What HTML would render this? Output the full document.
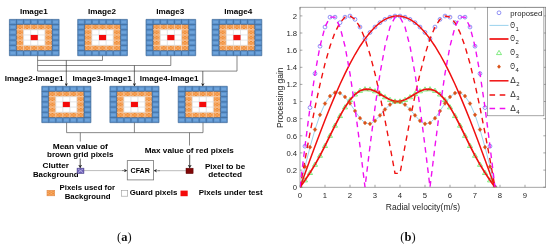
<!DOCTYPE html>
<html><head><meta charset="utf-8"><title>Figure</title>
<style>
html,body{margin:0;padding:0;background:#fff;}
body{width:550px;height:249px;overflow:hidden;}
svg{display:block;}
.lb{font-family:"Liberation Sans","DejaVu Sans",sans-serif;font-weight:bold;font-size:6.9px;fill:#000;}
.tk{font-family:"Liberation Sans",sans-serif;font-size:7.7px;fill:#262626;}
.ax{font-family:"Liberation Sans",sans-serif;font-size:8.5px;fill:#262626;}
.lg{font-family:"Liberation Sans",sans-serif;font-size:7.7px;fill:#222;}
.cap{font-family:"Liberation Serif",serif;font-size:12.5px;fill:#111;}
</style></head><body>
<svg width="550" height="249" viewBox="0 0 550 249">
<defs>
<pattern id="hatch" width="3.543" height="2.6" patternUnits="userSpaceOnUse"><rect width="3.543" height="2.6" fill="#f08629"/><path d="M0.3 0.3L3.24 2.3M3.24 0.3L0.3 2.3" stroke="#fce0c8" stroke-width="0.45"/></pattern>
<marker id="ah" viewBox="0 0 10 12" refX="9.5" refY="6" markerWidth="3" markerHeight="3.6" orient="auto-start-reverse" markerUnits="userSpaceOnUse"><path d="M0 0L10 6L0 12L2.5 6z" fill="#222"/></marker>
<marker id="ah2" viewBox="0 0 10 12" refX="9.5" refY="6" markerWidth="3.6" markerHeight="4.2" orient="auto-start-reverse" markerUnits="userSpaceOnUse"><path d="M0 0L10 6L0 12L3 6z" fill="#222"/></marker>
</defs>
<rect width="550" height="249" fill="#fff"/>
<g transform="translate(9.40,19.40)"><rect width="49.70" height="36.30" fill="#5b92cd"/><rect x="7.10" y="5.19" width="35.50" height="25.93" fill="url(#hatch)"/><rect x="14.20" y="10.37" width="21.30" height="15.56" fill="#fff"/><path d="M0.00 0V36.30M0 0.00H49.70M7.10 0V36.30M0 5.19H49.70M14.20 0V36.30M0 10.37H49.70M21.30 0V36.30M0 15.56H49.70M28.40 0V36.30M0 20.74H49.70M35.50 0V36.30M0 25.93H49.70M42.60 0V36.30M0 31.11H49.70M49.70 0V36.30M0 36.30H49.70" stroke="#3c6796" stroke-width="0.7" fill="none"/><path d="M1.20 1.50h4.70v2.19h-4.70zM8.30 1.50h4.70v2.19h-4.70zM15.40 1.50h4.70v2.19h-4.70zM22.50 1.50h4.70v2.19h-4.70zM29.60 1.50h4.70v2.19h-4.70zM36.70 1.50h4.70v2.19h-4.70zM43.80 1.50h4.70v2.19h-4.70zM1.20 6.69h4.70v2.19h-4.70zM43.80 6.69h4.70v2.19h-4.70zM1.20 11.87h4.70v2.19h-4.70zM43.80 11.87h4.70v2.19h-4.70zM1.20 17.06h4.70v2.19h-4.70zM43.80 17.06h4.70v2.19h-4.70zM1.20 22.24h4.70v2.19h-4.70zM43.80 22.24h4.70v2.19h-4.70zM1.20 27.43h4.70v2.19h-4.70zM43.80 27.43h4.70v2.19h-4.70zM1.20 32.61h4.70v2.19h-4.70zM8.30 32.61h4.70v2.19h-4.70zM15.40 32.61h4.70v2.19h-4.70zM22.50 32.61h4.70v2.19h-4.70zM29.60 32.61h4.70v2.19h-4.70zM36.70 32.61h4.70v2.19h-4.70zM43.80 32.61h4.70v2.19h-4.70z" fill="#8fc0f0" fill-opacity="0.38"/><rect x="7.10" y="5.19" width="35.50" height="25.93" fill="url(#hatch)" stroke="#3c6796" stroke-width="0.5"/><path d="M14.20 5.19V31.11M7.10 10.37H42.60M21.30 5.19V31.11M7.10 15.56H42.60M28.40 5.19V31.11M7.10 20.74H42.60M35.50 5.19V31.11M7.10 25.93H42.60" stroke="#fadcc6" stroke-width="0.7" fill="none"/><rect x="14.20" y="10.37" width="21.30" height="15.56" fill="#fff"/><path d="M14.20 10.37V25.93M14.20 10.37H35.50M21.30 10.37V25.93M14.20 15.56H35.50M28.40 10.37V25.93M14.20 20.74H35.50M35.50 10.37V25.93M14.20 25.93H35.50" stroke="#d4d4d4" stroke-width="0.6" fill="none"/><rect x="21.30" y="15.56" width="7.10" height="5.19" fill="#f40a0a"/></g>
<g transform="translate(77.70,19.40)"><rect width="49.70" height="36.30" fill="#5b92cd"/><rect x="7.10" y="5.19" width="35.50" height="25.93" fill="url(#hatch)"/><rect x="14.20" y="10.37" width="21.30" height="15.56" fill="#fff"/><path d="M0.00 0V36.30M0 0.00H49.70M7.10 0V36.30M0 5.19H49.70M14.20 0V36.30M0 10.37H49.70M21.30 0V36.30M0 15.56H49.70M28.40 0V36.30M0 20.74H49.70M35.50 0V36.30M0 25.93H49.70M42.60 0V36.30M0 31.11H49.70M49.70 0V36.30M0 36.30H49.70" stroke="#3c6796" stroke-width="0.7" fill="none"/><path d="M1.20 1.50h4.70v2.19h-4.70zM8.30 1.50h4.70v2.19h-4.70zM15.40 1.50h4.70v2.19h-4.70zM22.50 1.50h4.70v2.19h-4.70zM29.60 1.50h4.70v2.19h-4.70zM36.70 1.50h4.70v2.19h-4.70zM43.80 1.50h4.70v2.19h-4.70zM1.20 6.69h4.70v2.19h-4.70zM43.80 6.69h4.70v2.19h-4.70zM1.20 11.87h4.70v2.19h-4.70zM43.80 11.87h4.70v2.19h-4.70zM1.20 17.06h4.70v2.19h-4.70zM43.80 17.06h4.70v2.19h-4.70zM1.20 22.24h4.70v2.19h-4.70zM43.80 22.24h4.70v2.19h-4.70zM1.20 27.43h4.70v2.19h-4.70zM43.80 27.43h4.70v2.19h-4.70zM1.20 32.61h4.70v2.19h-4.70zM8.30 32.61h4.70v2.19h-4.70zM15.40 32.61h4.70v2.19h-4.70zM22.50 32.61h4.70v2.19h-4.70zM29.60 32.61h4.70v2.19h-4.70zM36.70 32.61h4.70v2.19h-4.70zM43.80 32.61h4.70v2.19h-4.70z" fill="#8fc0f0" fill-opacity="0.38"/><rect x="7.10" y="5.19" width="35.50" height="25.93" fill="url(#hatch)" stroke="#3c6796" stroke-width="0.5"/><path d="M14.20 5.19V31.11M7.10 10.37H42.60M21.30 5.19V31.11M7.10 15.56H42.60M28.40 5.19V31.11M7.10 20.74H42.60M35.50 5.19V31.11M7.10 25.93H42.60" stroke="#fadcc6" stroke-width="0.7" fill="none"/><rect x="14.20" y="10.37" width="21.30" height="15.56" fill="#fff"/><path d="M14.20 10.37V25.93M14.20 10.37H35.50M21.30 10.37V25.93M14.20 15.56H35.50M28.40 10.37V25.93M14.20 20.74H35.50M35.50 10.37V25.93M14.20 25.93H35.50" stroke="#d4d4d4" stroke-width="0.6" fill="none"/><rect x="21.30" y="15.56" width="7.10" height="5.19" fill="#f40a0a"/></g>
<g transform="translate(146.00,19.40)"><rect width="49.70" height="36.30" fill="#5b92cd"/><rect x="7.10" y="5.19" width="35.50" height="25.93" fill="url(#hatch)"/><rect x="14.20" y="10.37" width="21.30" height="15.56" fill="#fff"/><path d="M0.00 0V36.30M0 0.00H49.70M7.10 0V36.30M0 5.19H49.70M14.20 0V36.30M0 10.37H49.70M21.30 0V36.30M0 15.56H49.70M28.40 0V36.30M0 20.74H49.70M35.50 0V36.30M0 25.93H49.70M42.60 0V36.30M0 31.11H49.70M49.70 0V36.30M0 36.30H49.70" stroke="#3c6796" stroke-width="0.7" fill="none"/><path d="M1.20 1.50h4.70v2.19h-4.70zM8.30 1.50h4.70v2.19h-4.70zM15.40 1.50h4.70v2.19h-4.70zM22.50 1.50h4.70v2.19h-4.70zM29.60 1.50h4.70v2.19h-4.70zM36.70 1.50h4.70v2.19h-4.70zM43.80 1.50h4.70v2.19h-4.70zM1.20 6.69h4.70v2.19h-4.70zM43.80 6.69h4.70v2.19h-4.70zM1.20 11.87h4.70v2.19h-4.70zM43.80 11.87h4.70v2.19h-4.70zM1.20 17.06h4.70v2.19h-4.70zM43.80 17.06h4.70v2.19h-4.70zM1.20 22.24h4.70v2.19h-4.70zM43.80 22.24h4.70v2.19h-4.70zM1.20 27.43h4.70v2.19h-4.70zM43.80 27.43h4.70v2.19h-4.70zM1.20 32.61h4.70v2.19h-4.70zM8.30 32.61h4.70v2.19h-4.70zM15.40 32.61h4.70v2.19h-4.70zM22.50 32.61h4.70v2.19h-4.70zM29.60 32.61h4.70v2.19h-4.70zM36.70 32.61h4.70v2.19h-4.70zM43.80 32.61h4.70v2.19h-4.70z" fill="#8fc0f0" fill-opacity="0.38"/><rect x="7.10" y="5.19" width="35.50" height="25.93" fill="url(#hatch)" stroke="#3c6796" stroke-width="0.5"/><path d="M14.20 5.19V31.11M7.10 10.37H42.60M21.30 5.19V31.11M7.10 15.56H42.60M28.40 5.19V31.11M7.10 20.74H42.60M35.50 5.19V31.11M7.10 25.93H42.60" stroke="#fadcc6" stroke-width="0.7" fill="none"/><rect x="14.20" y="10.37" width="21.30" height="15.56" fill="#fff"/><path d="M14.20 10.37V25.93M14.20 10.37H35.50M21.30 10.37V25.93M14.20 15.56H35.50M28.40 10.37V25.93M14.20 20.74H35.50M35.50 10.37V25.93M14.20 25.93H35.50" stroke="#d4d4d4" stroke-width="0.6" fill="none"/><rect x="21.30" y="15.56" width="7.10" height="5.19" fill="#f40a0a"/></g>
<g transform="translate(212.10,19.40)"><rect width="49.70" height="36.30" fill="#5b92cd"/><rect x="7.10" y="5.19" width="35.50" height="25.93" fill="url(#hatch)"/><rect x="14.20" y="10.37" width="21.30" height="15.56" fill="#fff"/><path d="M0.00 0V36.30M0 0.00H49.70M7.10 0V36.30M0 5.19H49.70M14.20 0V36.30M0 10.37H49.70M21.30 0V36.30M0 15.56H49.70M28.40 0V36.30M0 20.74H49.70M35.50 0V36.30M0 25.93H49.70M42.60 0V36.30M0 31.11H49.70M49.70 0V36.30M0 36.30H49.70" stroke="#3c6796" stroke-width="0.7" fill="none"/><path d="M1.20 1.50h4.70v2.19h-4.70zM8.30 1.50h4.70v2.19h-4.70zM15.40 1.50h4.70v2.19h-4.70zM22.50 1.50h4.70v2.19h-4.70zM29.60 1.50h4.70v2.19h-4.70zM36.70 1.50h4.70v2.19h-4.70zM43.80 1.50h4.70v2.19h-4.70zM1.20 6.69h4.70v2.19h-4.70zM43.80 6.69h4.70v2.19h-4.70zM1.20 11.87h4.70v2.19h-4.70zM43.80 11.87h4.70v2.19h-4.70zM1.20 17.06h4.70v2.19h-4.70zM43.80 17.06h4.70v2.19h-4.70zM1.20 22.24h4.70v2.19h-4.70zM43.80 22.24h4.70v2.19h-4.70zM1.20 27.43h4.70v2.19h-4.70zM43.80 27.43h4.70v2.19h-4.70zM1.20 32.61h4.70v2.19h-4.70zM8.30 32.61h4.70v2.19h-4.70zM15.40 32.61h4.70v2.19h-4.70zM22.50 32.61h4.70v2.19h-4.70zM29.60 32.61h4.70v2.19h-4.70zM36.70 32.61h4.70v2.19h-4.70zM43.80 32.61h4.70v2.19h-4.70z" fill="#8fc0f0" fill-opacity="0.38"/><rect x="7.10" y="5.19" width="35.50" height="25.93" fill="url(#hatch)" stroke="#3c6796" stroke-width="0.5"/><path d="M14.20 5.19V31.11M7.10 10.37H42.60M21.30 5.19V31.11M7.10 15.56H42.60M28.40 5.19V31.11M7.10 20.74H42.60M35.50 5.19V31.11M7.10 25.93H42.60" stroke="#fadcc6" stroke-width="0.7" fill="none"/><rect x="14.20" y="10.37" width="21.30" height="15.56" fill="#fff"/><path d="M14.20 10.37V25.93M14.20 10.37H35.50M21.30 10.37V25.93M14.20 15.56H35.50M28.40 10.37V25.93M14.20 20.74H35.50M35.50 10.37V25.93M14.20 25.93H35.50" stroke="#d4d4d4" stroke-width="0.6" fill="none"/><rect x="21.30" y="15.56" width="7.10" height="5.19" fill="#f40a0a"/></g>
<g transform="translate(41.80,86.30)"><rect width="49.10" height="36.35" fill="#5b92cd"/><rect x="7.01" y="5.19" width="35.07" height="25.96" fill="url(#hatch)"/><rect x="14.03" y="10.39" width="21.04" height="15.58" fill="#fff"/><path d="M0.00 0V36.35M0 0.00H49.10M7.01 0V36.35M0 5.19H49.10M14.03 0V36.35M0 10.39H49.10M21.04 0V36.35M0 15.58H49.10M28.06 0V36.35M0 20.77H49.10M35.07 0V36.35M0 25.96H49.10M42.09 0V36.35M0 31.16H49.10M49.10 0V36.35M0 36.35H49.10" stroke="#3c6796" stroke-width="0.7" fill="none"/><path d="M1.20 1.50h4.61v2.19h-4.61zM8.21 1.50h4.61v2.19h-4.61zM15.23 1.50h4.61v2.19h-4.61zM22.24 1.50h4.61v2.19h-4.61zM29.26 1.50h4.61v2.19h-4.61zM36.27 1.50h4.61v2.19h-4.61zM43.29 1.50h4.61v2.19h-4.61zM1.20 6.69h4.61v2.19h-4.61zM43.29 6.69h4.61v2.19h-4.61zM1.20 11.89h4.61v2.19h-4.61zM43.29 11.89h4.61v2.19h-4.61zM1.20 17.08h4.61v2.19h-4.61zM43.29 17.08h4.61v2.19h-4.61zM1.20 22.27h4.61v2.19h-4.61zM43.29 22.27h4.61v2.19h-4.61zM1.20 27.46h4.61v2.19h-4.61zM43.29 27.46h4.61v2.19h-4.61zM1.20 32.66h4.61v2.19h-4.61zM8.21 32.66h4.61v2.19h-4.61zM15.23 32.66h4.61v2.19h-4.61zM22.24 32.66h4.61v2.19h-4.61zM29.26 32.66h4.61v2.19h-4.61zM36.27 32.66h4.61v2.19h-4.61zM43.29 32.66h4.61v2.19h-4.61z" fill="#8fc0f0" fill-opacity="0.38"/><rect x="7.01" y="5.19" width="35.07" height="25.96" fill="url(#hatch)" stroke="#3c6796" stroke-width="0.5"/><path d="M14.03 5.19V31.16M7.01 10.39H42.09M21.04 5.19V31.16M7.01 15.58H42.09M28.06 5.19V31.16M7.01 20.77H42.09M35.07 5.19V31.16M7.01 25.96H42.09" stroke="#fadcc6" stroke-width="0.7" fill="none"/><rect x="14.03" y="10.39" width="21.04" height="15.58" fill="#fff"/><path d="M14.03 10.39V25.96M14.03 10.39H35.07M21.04 10.39V25.96M14.03 15.58H35.07M28.06 10.39V25.96M14.03 20.77H35.07M35.07 10.39V25.96M14.03 25.96H35.07" stroke="#d4d4d4" stroke-width="0.6" fill="none"/><rect x="21.04" y="15.58" width="7.01" height="5.19" fill="#f40a0a"/></g>
<g transform="translate(109.90,86.30)"><rect width="49.10" height="36.35" fill="#5b92cd"/><rect x="7.01" y="5.19" width="35.07" height="25.96" fill="url(#hatch)"/><rect x="14.03" y="10.39" width="21.04" height="15.58" fill="#fff"/><path d="M0.00 0V36.35M0 0.00H49.10M7.01 0V36.35M0 5.19H49.10M14.03 0V36.35M0 10.39H49.10M21.04 0V36.35M0 15.58H49.10M28.06 0V36.35M0 20.77H49.10M35.07 0V36.35M0 25.96H49.10M42.09 0V36.35M0 31.16H49.10M49.10 0V36.35M0 36.35H49.10" stroke="#3c6796" stroke-width="0.7" fill="none"/><path d="M1.20 1.50h4.61v2.19h-4.61zM8.21 1.50h4.61v2.19h-4.61zM15.23 1.50h4.61v2.19h-4.61zM22.24 1.50h4.61v2.19h-4.61zM29.26 1.50h4.61v2.19h-4.61zM36.27 1.50h4.61v2.19h-4.61zM43.29 1.50h4.61v2.19h-4.61zM1.20 6.69h4.61v2.19h-4.61zM43.29 6.69h4.61v2.19h-4.61zM1.20 11.89h4.61v2.19h-4.61zM43.29 11.89h4.61v2.19h-4.61zM1.20 17.08h4.61v2.19h-4.61zM43.29 17.08h4.61v2.19h-4.61zM1.20 22.27h4.61v2.19h-4.61zM43.29 22.27h4.61v2.19h-4.61zM1.20 27.46h4.61v2.19h-4.61zM43.29 27.46h4.61v2.19h-4.61zM1.20 32.66h4.61v2.19h-4.61zM8.21 32.66h4.61v2.19h-4.61zM15.23 32.66h4.61v2.19h-4.61zM22.24 32.66h4.61v2.19h-4.61zM29.26 32.66h4.61v2.19h-4.61zM36.27 32.66h4.61v2.19h-4.61zM43.29 32.66h4.61v2.19h-4.61z" fill="#8fc0f0" fill-opacity="0.38"/><rect x="7.01" y="5.19" width="35.07" height="25.96" fill="url(#hatch)" stroke="#3c6796" stroke-width="0.5"/><path d="M14.03 5.19V31.16M7.01 10.39H42.09M21.04 5.19V31.16M7.01 15.58H42.09M28.06 5.19V31.16M7.01 20.77H42.09M35.07 5.19V31.16M7.01 25.96H42.09" stroke="#fadcc6" stroke-width="0.7" fill="none"/><rect x="14.03" y="10.39" width="21.04" height="15.58" fill="#fff"/><path d="M14.03 10.39V25.96M14.03 10.39H35.07M21.04 10.39V25.96M14.03 15.58H35.07M28.06 10.39V25.96M14.03 20.77H35.07M35.07 10.39V25.96M14.03 25.96H35.07" stroke="#d4d4d4" stroke-width="0.6" fill="none"/><rect x="21.04" y="15.58" width="7.01" height="5.19" fill="#f40a0a"/></g>
<g transform="translate(178.20,86.30)"><rect width="49.10" height="36.35" fill="#5b92cd"/><rect x="7.01" y="5.19" width="35.07" height="25.96" fill="url(#hatch)"/><rect x="14.03" y="10.39" width="21.04" height="15.58" fill="#fff"/><path d="M0.00 0V36.35M0 0.00H49.10M7.01 0V36.35M0 5.19H49.10M14.03 0V36.35M0 10.39H49.10M21.04 0V36.35M0 15.58H49.10M28.06 0V36.35M0 20.77H49.10M35.07 0V36.35M0 25.96H49.10M42.09 0V36.35M0 31.16H49.10M49.10 0V36.35M0 36.35H49.10" stroke="#3c6796" stroke-width="0.7" fill="none"/><path d="M1.20 1.50h4.61v2.19h-4.61zM8.21 1.50h4.61v2.19h-4.61zM15.23 1.50h4.61v2.19h-4.61zM22.24 1.50h4.61v2.19h-4.61zM29.26 1.50h4.61v2.19h-4.61zM36.27 1.50h4.61v2.19h-4.61zM43.29 1.50h4.61v2.19h-4.61zM1.20 6.69h4.61v2.19h-4.61zM43.29 6.69h4.61v2.19h-4.61zM1.20 11.89h4.61v2.19h-4.61zM43.29 11.89h4.61v2.19h-4.61zM1.20 17.08h4.61v2.19h-4.61zM43.29 17.08h4.61v2.19h-4.61zM1.20 22.27h4.61v2.19h-4.61zM43.29 22.27h4.61v2.19h-4.61zM1.20 27.46h4.61v2.19h-4.61zM43.29 27.46h4.61v2.19h-4.61zM1.20 32.66h4.61v2.19h-4.61zM8.21 32.66h4.61v2.19h-4.61zM15.23 32.66h4.61v2.19h-4.61zM22.24 32.66h4.61v2.19h-4.61zM29.26 32.66h4.61v2.19h-4.61zM36.27 32.66h4.61v2.19h-4.61zM43.29 32.66h4.61v2.19h-4.61z" fill="#8fc0f0" fill-opacity="0.38"/><rect x="7.01" y="5.19" width="35.07" height="25.96" fill="url(#hatch)" stroke="#3c6796" stroke-width="0.5"/><path d="M14.03 5.19V31.16M7.01 10.39H42.09M21.04 5.19V31.16M7.01 15.58H42.09M28.06 5.19V31.16M7.01 20.77H42.09M35.07 5.19V31.16M7.01 25.96H42.09" stroke="#fadcc6" stroke-width="0.7" fill="none"/><rect x="14.03" y="10.39" width="21.04" height="15.58" fill="#fff"/><path d="M14.03 10.39V25.96M14.03 10.39H35.07M21.04 10.39V25.96M14.03 15.58H35.07M28.06 10.39V25.96M14.03 20.77H35.07M35.07 10.39V25.96M14.03 25.96H35.07" stroke="#d4d4d4" stroke-width="0.6" fill="none"/><rect x="21.04" y="15.58" width="7.01" height="5.19" fill="#f40a0a"/></g>
<text class="lb" x="19.9" y="13.7" text-anchor="start" textLength="28.0" lengthAdjust="spacingAndGlyphs">Image1</text>
<text class="lb" x="88.1" y="13.7" text-anchor="start" textLength="28.0" lengthAdjust="spacingAndGlyphs">Image2</text>
<text class="lb" x="156.2" y="13.7" text-anchor="start" textLength="28.0" lengthAdjust="spacingAndGlyphs">Image3</text>
<text class="lb" x="224.3" y="13.7" text-anchor="start" textLength="28.0" lengthAdjust="spacingAndGlyphs">Image4</text>
<text class="lb" x="4.7" y="80.8" text-anchor="start" textLength="58.8" lengthAdjust="spacingAndGlyphs">Image2-Image1</text>
<text class="lb" x="72.5" y="80.8" text-anchor="start" textLength="59.4" lengthAdjust="spacingAndGlyphs">Image3-Image1</text>
<text class="lb" x="139.7" y="80.8" text-anchor="start" textLength="58.8" lengthAdjust="spacingAndGlyphs">Image4-Image1</text>
<path d="M37.6 55.699999999999996V71.1 M102.5 55.699999999999996V60.4 M170.8 55.699999999999996V65.5 M237 55.699999999999996V71.1 M37.6 60.4H102.5 M37.6 65.5H170.8 M37.6 71.1H237" stroke="#555" stroke-width="0.7" fill="none"/>
<path d="M66.3 60.4V86.0" stroke="#333" stroke-width="0.7" fill="none" marker-end="url(#ah)"/>
<path d="M134.4 65.5V86.0" stroke="#333" stroke-width="0.7" fill="none" marker-end="url(#ah)"/>
<path d="M202.8 71.1V86.0" stroke="#333" stroke-width="0.7" fill="none" marker-end="url(#ah)"/>
<path d="M66.6 122.65V132.65 M134.4 122.65V132.65 M203 122.65V132.65 M66.6 132.65H203 M80.3 132.65V141.5 M189.5 132.65V145.5" stroke="#555" stroke-width="0.7" fill="none"/>
<path d="M80.2 158.5V167.9" stroke="#333" stroke-width="0.85" fill="none" marker-end="url(#ah2)"/>
<path d="M189.7 154.8V168" stroke="#333" stroke-width="0.85" fill="none" marker-end="url(#ah2)"/>
<path d="M84 170.6H124" stroke="#bcbcbc" stroke-width="1" fill="none"/><path d="M122 170.6H126.9" stroke="#444" stroke-width="0.5" fill="none" marker-end="url(#ah)"/>
<path d="M185.9 170.7H158" stroke="#bcbcbc" stroke-width="1" fill="none"/><path d="M160 170.7H154" stroke="#444" stroke-width="0.5" fill="none" marker-end="url(#ah)"/>
<text class="lb" x="52.7" y="148.7" text-anchor="start" textLength="55.2" lengthAdjust="spacingAndGlyphs">Mean value of</text>
<text class="lb" x="47.0" y="156.5" text-anchor="start" textLength="66.5" lengthAdjust="spacingAndGlyphs">brown grid pixels</text>
<text class="lb" x="144.8" y="152.7" text-anchor="start" textLength="89.0" lengthAdjust="spacingAndGlyphs">Max value of red pixels</text>
<text class="lb" x="42.6" y="168.1" text-anchor="start" textLength="26.4" lengthAdjust="spacingAndGlyphs">Clutter</text>
<text class="lb" x="32.9" y="176.7" text-anchor="start" textLength="45.7" lengthAdjust="spacingAndGlyphs">Background</text>
<text class="lb" x="204.9" y="169.3" text-anchor="start" textLength="40.3" lengthAdjust="spacingAndGlyphs">Pixel to be</text>
<text class="lb" x="208.2" y="177.2" text-anchor="start" textLength="33.8" lengthAdjust="spacingAndGlyphs">detected</text>
<text class="lb" x="59.6" y="189.8" text-anchor="start" textLength="55.4" lengthAdjust="spacingAndGlyphs">Pixels used for</text>
<text class="lb" x="64.7" y="198.8" text-anchor="start" textLength="45.8" lengthAdjust="spacingAndGlyphs">Background</text>
<text class="lb" x="129.7" y="195.0" text-anchor="start" textLength="47.7" lengthAdjust="spacingAndGlyphs">Guard pixels</text>
<text class="lb" x="198.7" y="195.0" text-anchor="start" textLength="64.0" lengthAdjust="spacingAndGlyphs">Pixels under test</text>
<rect x="77.1" y="168.2" width="6.8" height="5.2" fill="#6c5fb8" stroke="#4a3f8a" stroke-width="0.6"/>
<path d="M78 169L83 172.6M83 169L78 172.6" stroke="#c9c2ea" stroke-width="0.7"/>
<rect x="127.3" y="160.6" width="26.3" height="19.3" fill="#fff" stroke="#777" stroke-width="0.8"/>
<text class="lb" x="130.5" y="173.1" text-anchor="start" textLength="19.4" lengthAdjust="spacingAndGlyphs">CFAR</text>
<rect x="186" y="168.2" width="7.1" height="5.4" fill="#800808" stroke="#5a0000" stroke-width="0.5"/>
<rect x="47" y="190.3" width="7.7" height="5.5" fill="url(#hatch)" stroke="#e08a4a" stroke-width="0.6"/>
<rect x="121.3" y="190.3" width="6.4" height="5.9" fill="#fff" stroke="#999" stroke-width="0.6"/>
<rect x="180.5" y="190.6" width="7.2" height="5.6" fill="#f40a0a"/>
<text class="cap" x="124.4" y="240.7" text-anchor="middle">(<tspan font-weight="bold">a</tspan>)</text>
<text class="cap" x="408" y="240.7" text-anchor="middle">(<tspan font-weight="bold">b</tspan>)</text>
<rect x="300.0" y="7.2" width="245.7" height="180.0" fill="#fff" stroke="#6a6a6a" stroke-width="0.6"/>
<path d="M300.0 187.2v-2.4M300.0 7.2v2.4M325.0 187.2v-2.4M325.0 7.2v2.4M350.0 187.2v-2.4M350.0 7.2v2.4M375.0 187.2v-2.4M375.0 7.2v2.4M400.0 187.2v-2.4M400.0 7.2v2.4M425.0 187.2v-2.4M425.0 7.2v2.4M450.0 187.2v-2.4M450.0 7.2v2.4M475.0 187.2v-2.4M475.0 7.2v2.4M500.0 187.2v-2.4M500.0 7.2v2.4M525.0 187.2v-2.4M525.0 7.2v2.4M300.0 187.2h2.4M545.7 187.2h-2.4M300.0 170.1h2.4M545.7 170.1h-2.4M300.0 152.9h2.4M545.7 152.9h-2.4M300.0 135.8h2.4M545.7 135.8h-2.4M300.0 118.7h2.4M545.7 118.7h-2.4M300.0 101.5h2.4M545.7 101.5h-2.4M300.0 84.4h2.4M545.7 84.4h-2.4M300.0 67.3h2.4M545.7 67.3h-2.4M300.0 50.2h2.4M545.7 50.2h-2.4M300.0 33.0h2.4M545.7 33.0h-2.4M300.0 15.9h2.4M545.7 15.9h-2.4" stroke="#6a6a6a" stroke-width="0.6" fill="none"/>
<text class="tk" x="300.0" y="198.0" text-anchor="middle">0</text>
<text class="tk" x="325.0" y="198.0" text-anchor="middle">1</text>
<text class="tk" x="350.0" y="198.0" text-anchor="middle">2</text>
<text class="tk" x="375.0" y="198.0" text-anchor="middle">3</text>
<text class="tk" x="400.0" y="198.0" text-anchor="middle">4</text>
<text class="tk" x="425.0" y="198.0" text-anchor="middle">5</text>
<text class="tk" x="450.0" y="198.0" text-anchor="middle">6</text>
<text class="tk" x="475.0" y="198.0" text-anchor="middle">7</text>
<text class="tk" x="500.0" y="198.0" text-anchor="middle">8</text>
<text class="tk" x="525.0" y="198.0" text-anchor="middle">9</text>
<text class="tk" x="297.1" y="190.0" text-anchor="end">0</text>
<text class="tk" x="297.1" y="172.9" text-anchor="end">0.2</text>
<text class="tk" x="297.1" y="155.7" text-anchor="end">0.4</text>
<text class="tk" x="297.1" y="138.6" text-anchor="end">0.6</text>
<text class="tk" x="297.1" y="121.5" text-anchor="end">0.8</text>
<text class="tk" x="297.1" y="104.3" text-anchor="end">1</text>
<text class="tk" x="297.1" y="87.2" text-anchor="end">1.2</text>
<text class="tk" x="297.1" y="70.1" text-anchor="end">1.4</text>
<text class="tk" x="297.1" y="53.0" text-anchor="end">1.6</text>
<text class="tk" x="297.1" y="35.8" text-anchor="end">1.8</text>
<text class="tk" x="297.1" y="18.7" text-anchor="end">2</text>
<text class="ax" x="422.9" y="209.5" text-anchor="middle">Radial velocity(m/s)</text>
<text class="ax" text-anchor="middle" transform="translate(283.1,97.7) rotate(-90)">Processing gain</text>
<clipPath id="cp"><rect x="300.0" y="7.2" width="245.7" height="180.0"/></clipPath>
<g clip-path="url(#cp)">
<circle cx="300.00" cy="187.20" r="1.9" fill="none" stroke="#5a5af0" stroke-width="0.65"/><circle cx="305.00" cy="146.21" r="1.9" fill="none" stroke="#5a5af0" stroke-width="0.65"/><circle cx="310.00" cy="107.59" r="1.9" fill="none" stroke="#5a5af0" stroke-width="0.65"/><circle cx="315.00" cy="73.61" r="1.9" fill="none" stroke="#5a5af0" stroke-width="0.65"/><circle cx="320.00" cy="46.22" r="1.9" fill="none" stroke="#5a5af0" stroke-width="0.65"/><circle cx="325.00" cy="27.03" r="1.9" fill="none" stroke="#5a5af0" stroke-width="0.65"/><circle cx="330.00" cy="17.15" r="1.9" fill="none" stroke="#5a5af0" stroke-width="0.65"/><circle cx="335.00" cy="17.15" r="1.9" fill="none" stroke="#5a5af0" stroke-width="0.65"/><circle cx="340.00" cy="22.66" r="1.9" fill="none" stroke="#5a5af0" stroke-width="0.65"/><circle cx="345.00" cy="17.15" r="1.9" fill="none" stroke="#5a5af0" stroke-width="0.65"/><circle cx="350.00" cy="16.04" r="1.9" fill="none" stroke="#5a5af0" stroke-width="0.65"/><circle cx="355.00" cy="19.36" r="1.9" fill="none" stroke="#5a5af0" stroke-width="0.65"/><circle cx="360.00" cy="27.03" r="1.9" fill="none" stroke="#5a5af0" stroke-width="0.65"/><circle cx="365.00" cy="38.85" r="1.9" fill="none" stroke="#5a5af0" stroke-width="0.65"/><circle cx="370.00" cy="32.44" r="1.9" fill="none" stroke="#5a5af0" stroke-width="0.65"/><circle cx="375.00" cy="27.03" r="1.9" fill="none" stroke="#5a5af0" stroke-width="0.65"/><circle cx="380.00" cy="22.66" r="1.9" fill="none" stroke="#5a5af0" stroke-width="0.65"/><circle cx="385.00" cy="19.36" r="1.9" fill="none" stroke="#5a5af0" stroke-width="0.65"/><circle cx="390.00" cy="17.15" r="1.9" fill="none" stroke="#5a5af0" stroke-width="0.65"/><circle cx="395.00" cy="16.04" r="1.9" fill="none" stroke="#5a5af0" stroke-width="0.65"/><circle cx="400.00" cy="16.04" r="1.9" fill="none" stroke="#5a5af0" stroke-width="0.65"/><circle cx="405.00" cy="17.15" r="1.9" fill="none" stroke="#5a5af0" stroke-width="0.65"/><circle cx="410.00" cy="19.36" r="1.9" fill="none" stroke="#5a5af0" stroke-width="0.65"/><circle cx="415.00" cy="22.66" r="1.9" fill="none" stroke="#5a5af0" stroke-width="0.65"/><circle cx="420.00" cy="27.03" r="1.9" fill="none" stroke="#5a5af0" stroke-width="0.65"/><circle cx="425.00" cy="32.44" r="1.9" fill="none" stroke="#5a5af0" stroke-width="0.65"/><circle cx="430.00" cy="38.85" r="1.9" fill="none" stroke="#5a5af0" stroke-width="0.65"/><circle cx="435.00" cy="27.03" r="1.9" fill="none" stroke="#5a5af0" stroke-width="0.65"/><circle cx="440.00" cy="19.36" r="1.9" fill="none" stroke="#5a5af0" stroke-width="0.65"/><circle cx="445.00" cy="16.04" r="1.9" fill="none" stroke="#5a5af0" stroke-width="0.65"/><circle cx="450.00" cy="17.15" r="1.9" fill="none" stroke="#5a5af0" stroke-width="0.65"/><circle cx="455.00" cy="22.66" r="1.9" fill="none" stroke="#5a5af0" stroke-width="0.65"/><circle cx="460.00" cy="17.15" r="1.9" fill="none" stroke="#5a5af0" stroke-width="0.65"/><circle cx="465.00" cy="17.15" r="1.9" fill="none" stroke="#5a5af0" stroke-width="0.65"/><circle cx="470.00" cy="27.03" r="1.9" fill="none" stroke="#5a5af0" stroke-width="0.65"/><circle cx="475.00" cy="46.22" r="1.9" fill="none" stroke="#5a5af0" stroke-width="0.65"/><circle cx="480.00" cy="73.61" r="1.9" fill="none" stroke="#5a5af0" stroke-width="0.65"/><circle cx="485.00" cy="107.59" r="1.9" fill="none" stroke="#5a5af0" stroke-width="0.65"/><circle cx="490.00" cy="146.21" r="1.9" fill="none" stroke="#5a5af0" stroke-width="0.65"/><circle cx="495.00" cy="187.20" r="1.9" fill="none" stroke="#5a5af0" stroke-width="0.65"/>
<polyline points="300.00,187.20 305.00,166.67 310.00,147.16 315.00,129.61 320.00,114.85 325.00,103.54 330.00,96.08 335.00,92.65 340.00,93.09 345.00,96.94 350.00,103.32 355.00,110.98 360.00,118.18 365.00,122.96 370.00,123.85 375.00,120.83 380.00,115.37 385.00,109.41 390.00,104.57 395.00,101.90 400.00,101.90 405.00,104.57 410.00,109.41 415.00,115.37 420.00,120.83 425.00,123.85 430.00,122.96 435.00,118.18 440.00,110.98 445.00,103.32 450.00,96.94 455.00,93.09 460.00,92.65 465.00,96.08 470.00,103.54 475.00,114.85 480.00,129.61 485.00,147.16 490.00,166.67 495.00,187.20" fill="none" stroke="#56b4e0" stroke-width="0.6"/>
<path d="M300.00 184.70L302.50 188.90H297.50z" fill="none" stroke="#40e040" stroke-width="0.65"/><path d="M305.00 177.72L307.50 181.92H302.50z" fill="none" stroke="#40e040" stroke-width="0.65"/><path d="M310.00 170.29L312.50 174.49H307.50z" fill="none" stroke="#40e040" stroke-width="0.65"/><path d="M315.00 162.10L317.50 166.30H312.50z" fill="none" stroke="#40e040" stroke-width="0.65"/><path d="M320.00 153.06L322.50 157.26H317.50z" fill="none" stroke="#40e040" stroke-width="0.65"/><path d="M325.00 143.31L327.50 147.51H322.50z" fill="none" stroke="#40e040" stroke-width="0.65"/><path d="M330.00 133.15L332.50 137.35H327.50z" fill="none" stroke="#40e040" stroke-width="0.65"/><path d="M335.00 123.01L337.50 127.21H332.50z" fill="none" stroke="#40e040" stroke-width="0.65"/><path d="M340.00 113.36L342.50 117.56H337.50z" fill="none" stroke="#40e040" stroke-width="0.65"/><path d="M345.00 104.67L347.50 108.87H342.50z" fill="none" stroke="#40e040" stroke-width="0.65"/><path d="M350.00 97.38L352.50 101.58H347.50z" fill="none" stroke="#40e040" stroke-width="0.65"/><path d="M355.00 91.82L357.50 96.02H352.50z" fill="none" stroke="#40e040" stroke-width="0.65"/><path d="M360.00 88.20L362.50 92.40H357.50z" fill="none" stroke="#40e040" stroke-width="0.65"/><path d="M365.00 86.58L367.50 90.78H362.50z" fill="none" stroke="#40e040" stroke-width="0.65"/><path d="M370.00 86.82L372.50 91.02H367.50z" fill="none" stroke="#40e040" stroke-width="0.65"/><path d="M375.00 88.61L377.50 92.81H372.50z" fill="none" stroke="#40e040" stroke-width="0.65"/><path d="M380.00 91.42L382.50 95.62H377.50z" fill="none" stroke="#40e040" stroke-width="0.65"/><path d="M385.00 94.56L387.50 98.76H382.50z" fill="none" stroke="#40e040" stroke-width="0.65"/><path d="M390.00 97.27L392.50 101.47H387.50z" fill="none" stroke="#40e040" stroke-width="0.65"/><path d="M395.00 98.84L397.50 103.04H392.50z" fill="none" stroke="#40e040" stroke-width="0.65"/><path d="M400.00 98.84L402.50 103.04H397.50z" fill="none" stroke="#40e040" stroke-width="0.65"/><path d="M405.00 97.27L407.50 101.47H402.50z" fill="none" stroke="#40e040" stroke-width="0.65"/><path d="M410.00 94.56L412.50 98.76H407.50z" fill="none" stroke="#40e040" stroke-width="0.65"/><path d="M415.00 91.42L417.50 95.62H412.50z" fill="none" stroke="#40e040" stroke-width="0.65"/><path d="M420.00 88.61L422.50 92.81H417.50z" fill="none" stroke="#40e040" stroke-width="0.65"/><path d="M425.00 86.82L427.50 91.02H422.50z" fill="none" stroke="#40e040" stroke-width="0.65"/><path d="M430.00 86.58L432.50 90.78H427.50z" fill="none" stroke="#40e040" stroke-width="0.65"/><path d="M435.00 88.20L437.50 92.40H432.50z" fill="none" stroke="#40e040" stroke-width="0.65"/><path d="M440.00 91.82L442.50 96.02H437.50z" fill="none" stroke="#40e040" stroke-width="0.65"/><path d="M445.00 97.38L447.50 101.58H442.50z" fill="none" stroke="#40e040" stroke-width="0.65"/><path d="M450.00 104.67L452.50 108.87H447.50z" fill="none" stroke="#40e040" stroke-width="0.65"/><path d="M455.00 113.36L457.50 117.56H452.50z" fill="none" stroke="#40e040" stroke-width="0.65"/><path d="M460.00 123.01L462.50 127.21H457.50z" fill="none" stroke="#40e040" stroke-width="0.65"/><path d="M465.00 133.15L467.50 137.35H462.50z" fill="none" stroke="#40e040" stroke-width="0.65"/><path d="M470.00 143.31L472.50 147.51H467.50z" fill="none" stroke="#40e040" stroke-width="0.65"/><path d="M475.00 153.06L477.50 157.26H472.50z" fill="none" stroke="#40e040" stroke-width="0.65"/><path d="M480.00 162.10L482.50 166.30H477.50z" fill="none" stroke="#40e040" stroke-width="0.65"/><path d="M485.00 170.29L487.50 174.49H482.50z" fill="none" stroke="#40e040" stroke-width="0.65"/><path d="M490.00 177.72L492.50 181.92H487.50z" fill="none" stroke="#40e040" stroke-width="0.65"/><path d="M495.00 184.70L497.50 188.90H492.50z" fill="none" stroke="#40e040" stroke-width="0.65"/>
<polyline points="300.00,187.20 305.00,180.22 310.00,172.79 315.00,164.60 320.00,155.56 325.00,145.81 330.00,135.65 335.00,125.51 340.00,115.86 345.00,107.17 350.00,99.88 355.00,94.32 360.00,90.70 365.00,89.08 370.00,89.32 375.00,91.11 380.00,93.92 385.00,97.06 390.00,99.77 395.00,101.34 400.00,101.34 405.00,99.77 410.00,97.06 415.00,93.92 420.00,91.11 425.00,89.32 430.00,89.08 435.00,90.70 440.00,94.32 445.00,99.88 450.00,107.17 455.00,115.86 460.00,125.51 465.00,135.65 470.00,145.81 475.00,155.56 480.00,164.60 485.00,172.79 490.00,180.22 495.00,187.20" fill="none" stroke="#f01010" stroke-width="1.7"/>
<path d="M300.00 185.10L301.90 187.20L300.00 189.30L298.10 187.20z" fill="#d95319" stroke="#d95319" stroke-width="0.3"/><path d="M305.00 164.57L306.90 166.67L305.00 168.77L303.10 166.67z" fill="#d95319" stroke="#d95319" stroke-width="0.3"/><path d="M310.00 145.06L311.90 147.16L310.00 149.26L308.10 147.16z" fill="#d95319" stroke="#d95319" stroke-width="0.3"/><path d="M315.00 127.51L316.90 129.61L315.00 131.71L313.10 129.61z" fill="#d95319" stroke="#d95319" stroke-width="0.3"/><path d="M320.00 112.75L321.90 114.85L320.00 116.95L318.10 114.85z" fill="#d95319" stroke="#d95319" stroke-width="0.3"/><path d="M325.00 101.44L326.90 103.54L325.00 105.64L323.10 103.54z" fill="#d95319" stroke="#d95319" stroke-width="0.3"/><path d="M330.00 93.98L331.90 96.08L330.00 98.18L328.10 96.08z" fill="#d95319" stroke="#d95319" stroke-width="0.3"/><path d="M335.00 90.55L336.90 92.65L335.00 94.75L333.10 92.65z" fill="#d95319" stroke="#d95319" stroke-width="0.3"/><path d="M340.00 90.99L341.90 93.09L340.00 95.19L338.10 93.09z" fill="#d95319" stroke="#d95319" stroke-width="0.3"/><path d="M345.00 94.84L346.90 96.94L345.00 99.04L343.10 96.94z" fill="#d95319" stroke="#d95319" stroke-width="0.3"/><path d="M350.00 101.22L351.90 103.32L350.00 105.42L348.10 103.32z" fill="#d95319" stroke="#d95319" stroke-width="0.3"/><path d="M355.00 108.88L356.90 110.98L355.00 113.08L353.10 110.98z" fill="#d95319" stroke="#d95319" stroke-width="0.3"/><path d="M360.00 116.08L361.90 118.18L360.00 120.28L358.10 118.18z" fill="#d95319" stroke="#d95319" stroke-width="0.3"/><path d="M365.00 120.86L366.90 122.96L365.00 125.06L363.10 122.96z" fill="#d95319" stroke="#d95319" stroke-width="0.3"/><path d="M370.00 121.75L371.90 123.85L370.00 125.95L368.10 123.85z" fill="#d95319" stroke="#d95319" stroke-width="0.3"/><path d="M375.00 118.73L376.90 120.83L375.00 122.93L373.10 120.83z" fill="#d95319" stroke="#d95319" stroke-width="0.3"/><path d="M380.00 113.27L381.90 115.37L380.00 117.47L378.10 115.37z" fill="#d95319" stroke="#d95319" stroke-width="0.3"/><path d="M385.00 107.31L386.90 109.41L385.00 111.51L383.10 109.41z" fill="#d95319" stroke="#d95319" stroke-width="0.3"/><path d="M390.00 102.47L391.90 104.57L390.00 106.67L388.10 104.57z" fill="#d95319" stroke="#d95319" stroke-width="0.3"/><path d="M395.00 99.80L396.90 101.90L395.00 104.00L393.10 101.90z" fill="#d95319" stroke="#d95319" stroke-width="0.3"/><path d="M400.00 99.80L401.90 101.90L400.00 104.00L398.10 101.90z" fill="#d95319" stroke="#d95319" stroke-width="0.3"/><path d="M405.00 102.47L406.90 104.57L405.00 106.67L403.10 104.57z" fill="#d95319" stroke="#d95319" stroke-width="0.3"/><path d="M410.00 107.31L411.90 109.41L410.00 111.51L408.10 109.41z" fill="#d95319" stroke="#d95319" stroke-width="0.3"/><path d="M415.00 113.27L416.90 115.37L415.00 117.47L413.10 115.37z" fill="#d95319" stroke="#d95319" stroke-width="0.3"/><path d="M420.00 118.73L421.90 120.83L420.00 122.93L418.10 120.83z" fill="#d95319" stroke="#d95319" stroke-width="0.3"/><path d="M425.00 121.75L426.90 123.85L425.00 125.95L423.10 123.85z" fill="#d95319" stroke="#d95319" stroke-width="0.3"/><path d="M430.00 120.86L431.90 122.96L430.00 125.06L428.10 122.96z" fill="#d95319" stroke="#d95319" stroke-width="0.3"/><path d="M435.00 116.08L436.90 118.18L435.00 120.28L433.10 118.18z" fill="#d95319" stroke="#d95319" stroke-width="0.3"/><path d="M440.00 108.88L441.90 110.98L440.00 113.08L438.10 110.98z" fill="#d95319" stroke="#d95319" stroke-width="0.3"/><path d="M445.00 101.22L446.90 103.32L445.00 105.42L443.10 103.32z" fill="#d95319" stroke="#d95319" stroke-width="0.3"/><path d="M450.00 94.84L451.90 96.94L450.00 99.04L448.10 96.94z" fill="#d95319" stroke="#d95319" stroke-width="0.3"/><path d="M455.00 90.99L456.90 93.09L455.00 95.19L453.10 93.09z" fill="#d95319" stroke="#d95319" stroke-width="0.3"/><path d="M460.00 90.55L461.90 92.65L460.00 94.75L458.10 92.65z" fill="#d95319" stroke="#d95319" stroke-width="0.3"/><path d="M465.00 93.98L466.90 96.08L465.00 98.18L463.10 96.08z" fill="#d95319" stroke="#d95319" stroke-width="0.3"/><path d="M470.00 101.44L471.90 103.54L470.00 105.64L468.10 103.54z" fill="#d95319" stroke="#d95319" stroke-width="0.3"/><path d="M475.00 112.75L476.90 114.85L475.00 116.95L473.10 114.85z" fill="#d95319" stroke="#d95319" stroke-width="0.3"/><path d="M480.00 127.51L481.90 129.61L480.00 131.71L478.10 129.61z" fill="#d95319" stroke="#d95319" stroke-width="0.3"/><path d="M485.00 145.06L486.90 147.16L485.00 149.26L483.10 147.16z" fill="#d95319" stroke="#d95319" stroke-width="0.3"/><path d="M490.00 164.57L491.90 166.67L490.00 168.77L488.10 166.67z" fill="#d95319" stroke="#d95319" stroke-width="0.3"/><path d="M495.00 185.10L496.90 187.20L495.00 189.30L493.10 187.20z" fill="#d95319" stroke="#d95319" stroke-width="0.3"/>
<polyline points="300.00,187.20 305.00,173.42 310.00,159.72 315.00,146.21 320.00,132.95 325.00,120.06 330.00,107.59 335.00,95.65 340.00,84.29 345.00,73.61 350.00,63.66 355.00,54.51 360.00,46.22 365.00,38.85 370.00,32.44 375.00,27.03 380.00,22.66 385.00,19.36 390.00,17.15 395.00,16.04 400.00,16.04 405.00,17.15 410.00,19.36 415.00,22.66 420.00,27.03 425.00,32.44 430.00,38.85 435.00,46.22 440.00,54.51 445.00,63.66 450.00,73.61 455.00,84.29 460.00,95.65 465.00,107.59 470.00,120.06 475.00,132.95 480.00,146.21 485.00,159.72 490.00,173.42 495.00,187.20" fill="none" stroke="#f01010" stroke-width="1.5"/>
<polyline points="300.00,187.20 305.00,159.72 310.00,132.95 315.00,107.59 320.00,84.29 325.00,63.66 330.00,46.22 335.00,32.44 340.00,22.66 345.00,17.15 350.00,16.04 355.00,19.36 360.00,27.03 365.00,38.85 370.00,54.51 375.00,73.61 380.00,95.65 385.00,120.06 390.00,146.21 395.00,173.42 400.00,173.42 405.00,146.21 410.00,120.06 415.00,95.65 420.00,73.61 425.00,54.51 430.00,38.85 435.00,27.03 440.00,19.36 445.00,16.04 450.00,17.15 455.00,22.66 460.00,32.44 465.00,46.22 470.00,63.66 475.00,84.29 480.00,107.59 485.00,132.95 490.00,159.72 495.00,187.20" fill="none" stroke="#f01010" stroke-width="1.4" stroke-dasharray="5.6 4.6" stroke-dashoffset="1.19"/>
<polyline points="300.00,187.20 305.00,146.21 310.00,107.59 315.00,73.61 320.00,46.22 325.00,27.03 330.00,17.15 335.00,17.15 340.00,27.03 345.00,46.22 350.00,73.61 355.00,107.59 360.00,146.21 365.00,187.20 370.00,146.21 375.00,107.59 380.00,73.61 385.00,46.22 390.00,27.03 395.00,17.15 400.00,17.15 405.00,27.03 410.00,46.22 415.00,73.61 420.00,107.59 425.00,146.21 430.00,187.20 435.00,146.21 440.00,107.59 445.00,73.61 450.00,46.22 455.00,27.03 460.00,17.15 465.00,17.15 470.00,27.03 475.00,46.22 480.00,73.61 485.00,107.59 490.00,146.21 495.00,187.20" fill="none" stroke="#f010f0" stroke-width="1.4" stroke-dasharray="5.6 4.6"/>
</g>
<rect x="487.6" y="7.5" width="56.3" height="108.3" fill="#fff" stroke="#6a6a6a" stroke-width="0.6"/>
<circle cx="499.0" cy="12.8" r="1.9" fill="none" stroke="#5a5af0" stroke-width="0.65"/>
<path d="M489.5 25.4H508.5" stroke="#56b4e0" stroke-width="0.6"/>
<path d="M489.5 39.0H508.5" stroke="#f01010" stroke-width="1.7"/>
<path d="M499.00 50.40L501.50 54.60H496.50z" fill="none" stroke="#40e040" stroke-width="0.65"/>
<path d="M499.00 64.60L500.90 66.70L499.00 68.80L497.10 66.70z" fill="#d95319"/>
<path d="M489.5 80.8H508.5" stroke="#f01010" stroke-width="1.5"/>
<path d="M489.5 95.0H508.5" stroke="#f01010" stroke-width="1.5" stroke-dasharray="5.6 4.6"/>
<path d="M489.5 108.6H508.5" stroke="#f010f0" stroke-width="1.5" stroke-dasharray="5.6 4.6"/>
<text class="lg" x="510.3" y="16.1" text-anchor="start">proposed</text>
<text class="lg" x="510.3" y="27.6" style="font-size:8.6px"><tspan textLength="4.7" lengthAdjust="spacingAndGlyphs">Θ</tspan><tspan dx="0.5" dy="2.9" style="font-size:5.9px">1</tspan></text>
<text class="lg" x="510.3" y="41.2" style="font-size:8.6px"><tspan textLength="4.7" lengthAdjust="spacingAndGlyphs">Θ</tspan><tspan dx="0.5" dy="2.9" style="font-size:5.9px">2</tspan></text>
<text class="lg" x="510.3" y="55.1" style="font-size:8.6px"><tspan textLength="4.7" lengthAdjust="spacingAndGlyphs">Θ</tspan><tspan dx="0.5" dy="2.9" style="font-size:5.9px">3</tspan></text>
<text class="lg" x="510.3" y="68.9" style="font-size:8.6px"><tspan textLength="4.7" lengthAdjust="spacingAndGlyphs">Θ</tspan><tspan dx="0.5" dy="2.9" style="font-size:5.9px">4</tspan></text>
<text class="lg" x="510.3" y="83.0" style="font-size:8.6px"><tspan textLength="5.5" lengthAdjust="spacingAndGlyphs">Δ</tspan><tspan dx="0.5" dy="2.9" style="font-size:5.9px">2</tspan></text>
<text class="lg" x="510.3" y="97.2" style="font-size:8.6px"><tspan textLength="5.5" lengthAdjust="spacingAndGlyphs">Δ</tspan><tspan dx="0.5" dy="2.9" style="font-size:5.9px">3</tspan></text>
<text class="lg" x="510.3" y="110.8" style="font-size:8.6px"><tspan textLength="5.5" lengthAdjust="spacingAndGlyphs">Δ</tspan><tspan dx="0.5" dy="2.9" style="font-size:5.9px">4</tspan></text>
</svg>
</body></html>
